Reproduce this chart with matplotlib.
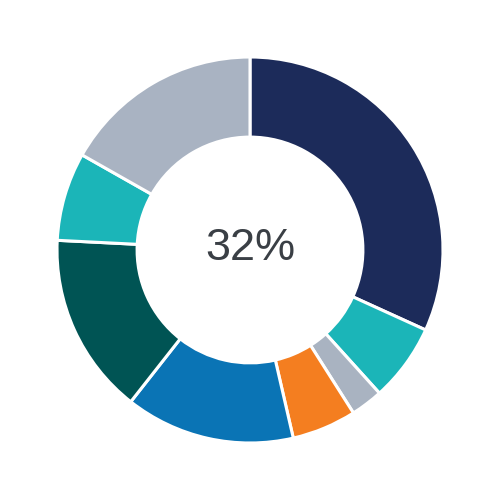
import matplotlib
matplotlib.use("Agg")
import matplotlib.pyplot as plt

labels = ["A", "B", "C", "D", "E", "F", "G", "H"]
values = [31.8, 6.5, 2.7, 5.4, 14.2, 15.2, 7.4, 16.8]
colors = ["#1c2b5a", "#1bb5b8", "#a9b3c1", "#f47e20", "#0a74b5", "#005454", "#1bb5b8", "#a9b3c2"]
center_text = "32%"

fig = plt.figure(figsize=(5, 5), dpi=100)
ax = fig.add_axes([0, 0, 1, 1])
ax.pie(values, colors=colors, startangle=90, counterclock=False, radius=1.0,
       wedgeprops=dict(width=0.415, edgecolor="white", linewidth=2.2))
ax.text(0, 0.01, center_text, ha="center", va="center", fontsize=32.5,
        color="#3a3f45", family=["Liberation Sans", "DejaVu Sans"])
lim = 250 / 193
ax.set_xlim(-lim, lim)
ax.set_ylim(-lim, lim)
ax.set_aspect("equal")
ax.axis("off")
fig.savefig("out.png", dpi=100, facecolor="white")
